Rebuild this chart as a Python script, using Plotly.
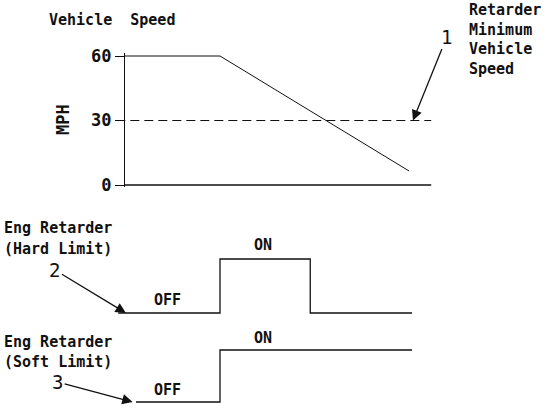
import plotly.graph_objects as go

# Vehicle speed profile (MPH) against time
speed_time = [0, 10, 29.7]
speed_mph = [60, 60, 6.5]
speed_ticks = [0, 30, 60]
retarder_min_speed = 30
min_speed_time = [-0.8, 32]
baseline_time = [0, 32]

# Engine retarder states (0 = OFF, 1 = ON)
hard_time = [-0.6, 10, 19.4, 30]
hard_state = [0, 1, 0, 0]
soft_time = [1.25, 10, 30]
soft_state = [0, 1, 1]

W, H = 551, 417
FONT = "DejaVu Sans Mono"
INK = "#111111"


def px(x, y):
    return x / W, 1 - y / H


fig = go.Figure()

# Vehicle speed
fig.add_trace(go.Scatter(x=speed_time, y=speed_mph, mode='lines',
                         line=dict(color=INK, width=1), yaxis='y'))
fig.add_trace(go.Scatter(x=min_speed_time, y=[retarder_min_speed] * 2, mode='lines',
                         line=dict(color=INK, width=1.1, dash='9px,5px'), yaxis='y'))
fig.add_trace(go.Scatter(x=baseline_time, y=[0, 0], mode='lines',
                         line=dict(color=INK, width=1.3), yaxis='y'))

# Retarder signals
fig.add_trace(go.Scatter(x=hard_time, y=hard_state, mode='lines', line_shape='hv',
                         line=dict(color=INK, width=1.3), yaxis='y2'))
fig.add_trace(go.Scatter(x=soft_time, y=soft_state, mode='lines', line_shape='hv',
                         line=dict(color=INK, width=1.3), yaxis='y3'))

anns = []


def text(x, y, s, size=15, xanchor='left', angle=0):
    xp, yp = px(x, y)
    anns.append(dict(x=xp, y=yp, xref='paper', yref='paper', text="<b>%s</b>" % s,
                     showarrow=False, xanchor=xanchor, yanchor='middle', textangle=angle,
                     align='left', font=dict(family=FONT, size=size, color=INK)))


text(47, 20, "Vehicle&nbsp; Speed")
text(63, 120, "MPH", size=17, xanchor='center', angle=-90)
text(467, 40, "Retarder<br>Minimum<br>Vehicle<br>Speed", size=15)
text(2, 228, "Eng Retarder")
text(2, 249, "(Hard Limit)")
text(2, 342, "Eng Retarder")
text(2, 362, "(Soft Limit)")
text(263, 245, "ON", xanchor='center')
text(167, 300, "OFF", xanchor='center')
text(263, 338, "ON", xanchor='center')
text(167, 390, "OFF", xanchor='center')

arrow = dict(showarrow=True, arrowhead=2, arrowsize=1.6, arrowwidth=1.3,
             arrowcolor=INK, standoff=0, font=dict(family=FONT, size=19, color=INK))
anns.append(dict(arrow, x=30.1, y=retarder_min_speed, xref='x', yref='y', text="1",
                 ax=34, ay=-84))
anns.append(dict(arrow, x=0.2, y=0, xref='x', yref='y2', text="2", ax=-71, ay=-43))
anns.append(dict(arrow, x=0.9, y=0, xref='x', yref='y3', text="3", ax=-75, ay=-20))

fig.update_layout(
    width=W, height=H,
    margin=dict(l=0, r=0, t=0, b=0, pad=0, autoexpand=False),
    paper_bgcolor='white', plot_bgcolor='white',
    showlegend=False,
    annotations=anns,
    xaxis=dict(range=[-124 / 9.6, (W - 124) / 9.6], domain=[0, 1], visible=False,
               automargin=False),
    yaxis=dict(domain=[1 - 187 / H, 1 - 53 / H], range=[-0.93, 61.4],
               anchor='free', position=124 / W, automargin=False,
               showline=True, linecolor=INK, linewidth=1.3,
               ticks='outside', ticklen=9, tickcolor=INK, tickwidth=1.3,
               tickvals=speed_ticks, showgrid=False, zeroline=False,
               tickfont=dict(family=FONT, size=17, color=INK, weight='bold')),
    yaxis2=dict(domain=[1 - 325 / H, 1 - 240 / H], range=[-0.222, 1.352],
                anchor='x', visible=False, automargin=False),
    yaxis3=dict(domain=[1 - 415 / H, 1 - 330 / H], range=[-0.25, 1.385],
                anchor='x', visible=False, automargin=False),
)

fig.write_html("out.html", config={'displayModeBar': False},
               post_script="document.body.style.margin='0px';")
